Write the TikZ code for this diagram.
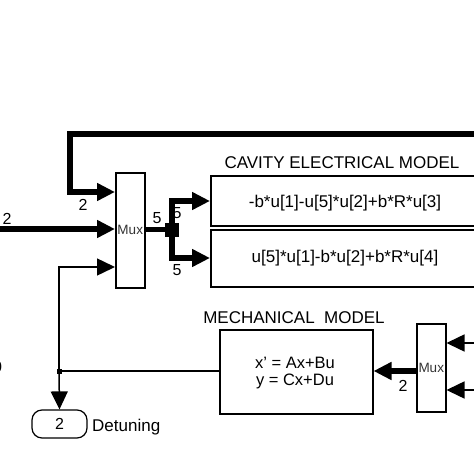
\documentclass[tikz,border=0pt]{standalone}
\usepackage{fontspec}
\setmainfont{Liberation Sans}
\usetikzlibrary{arrows.meta,calc}
\begin{document}
\begin{tikzpicture}[x=1pt,y=-1pt,
  blk/.style={draw,line width=1.5pt,inner sep=0pt,fill=white,anchor=north west},
  fatline/.style={line width=5.5pt,line join=miter},
  slimline/.style={line width=1.5pt},
  arr/.style={-{Triangle[length=18pt,width=17pt]}},
  lbl/.style={font=\fontsize{16}{16}\selectfont,inner sep=0pt},
  big/.style={font=\fontsize{17}{17}\selectfont,inner sep=0pt},
  muxt/.style={font=\fontsize{13.5}{13.5}\selectfont,text=black!80}]
\useasboundingbox (0,0) rectangle (474,474);

% blocks
\node[blk,minimum width=29pt,minimum height=115pt,muxt] (mux1) at (115,172) {Mux};
\node[blk,minimum width=270pt,minimum height=50pt,big] (cav1) at (210,175) {};
\node[big] (f1) at (345,203) {-b*u[1]-u[5]*u[2]+b*R*u[3]};
\node[blk,minimum width=270pt,minimum height=57pt,big] (cav2) at (210,229) {};
\node[big] (f2) at (345,258) {u[5]*u[1]-b*u[2]+b*R*u[4]};
\node[big] (cavt) at (342,163) {CAVITY ELECTRICAL MODEL};

\node[blk,minimum width=153pt,minimum height=84pt] (mech) at (219,329) {};
\node[align=center,font=\fontsize{16.5}{17}\selectfont,inner sep=0pt] (eq) at (295,373) {x' = Ax+Bu\\y = Cx+Du};
\node[big] (mecht) at (294,318) {MECHANICAL\ \ MODEL};

\node[blk,minimum width=29pt,minimum height=88pt,muxt] (mux2) at (416,323) {Mux};

\node[draw,line width=1.2pt,rounded corners=10pt,minimum width=55pt,minimum height=28pt,inner sep=0pt,lbl] (outp) at (59.5,424) {2};
\node[big,anchor=west] (det) at (92,427) {Detuning};

\node[lbl] (part) at (-2.5,367) {0};

% junctions
\node[fill=black,minimum size=14pt,inner sep=0pt] (jn) at (172,229.5) {};
\node[fill=black,minimum size=5pt,inner sep=0pt] (jd) at (59,371) {};

% free ends
\coordinate (fbin) at (480,134);
\coordinate (in2) at (-5,229);
\coordinate (r1) at (480,343);
\coordinate (r2) at (480,390);

% connectors
\draw[fatline,arr] (fbin) -- (70,134) -- (70,192) -- (mux1.west |- 0,192);
\draw[fatline,arr] (in2) -- (mux1.west |- in2);
\draw[fatline] (mux1.east |- jn) -- (jn.center);
\draw[fatline,arr] (jn.center) -- (172,201) -- (cav1.west |- 0,201);
\draw[fatline,arr] (jn.center) -- (172,258) -- (cav2.west |- 0,258);
\draw[fatline,arr] (mux2.west |- 0,371) -- (mech.east |- 0,371);
\draw[slimline] (mech.west |- jd) -- (jd.center);
\draw[slimline,arr] (jd.center) -- (59,267) -- (mux1.west |- 0,267);
\draw[slimline,arr] (jd.center) -- (outp.north);
\draw[slimline,arr] (r1) -- (mux2.east |- r1);
\draw[slimline,arr] (r2) -- (mux2.east |- r2);

% signal width labels
\node[lbl] at (83,205) {2};
\node[lbl] at (7,219) {2};
\node[lbl] at (157,218) {5};
\node[lbl] at (177,213) {5};
\node[lbl] at (177,270) {5};
\node[lbl] at (403,386) {2};
\end{tikzpicture}
\end{document}
